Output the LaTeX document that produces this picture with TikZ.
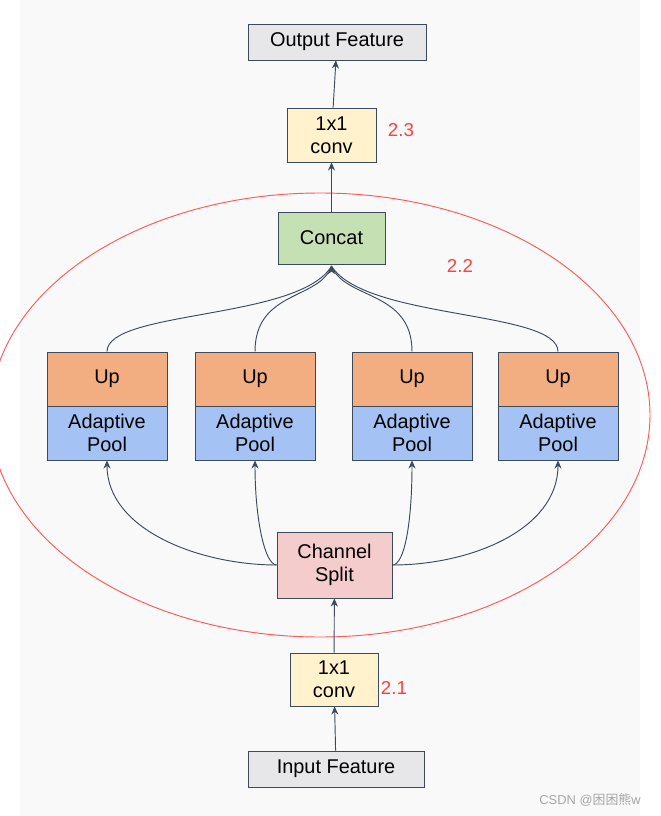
\documentclass[tikz,border=0pt]{standalone}
\usepackage{fontspec}
\setmainfont{Liberation Sans}
\newfontfamily\cjk{Noto Sans CJK SC}
\usetikzlibrary{arrows.meta}
\definecolor{ln}{HTML}{3D4A5C}
\definecolor{cup}{HTML}{F2AE80}
\definecolor{cpool}{HTML}{A4C2F4}
\definecolor{ccat}{HTML}{C5E0B3}
\definecolor{cconv}{HTML}{FFF2CC}
\definecolor{csplit}{HTML}{F4CCCC}
\definecolor{cio}{HTML}{E7E7E9}
\begin{document}
\begin{tikzpicture}[x=0.03cm,y=-0.03cm,
 bx/.style={draw=ln,line width=0.6pt,font=\fontsize{17}{20}\selectfont,align=center,inner sep=0pt},
 ar/.style={draw=ln,line width=0.8pt,-{Stealth[length=7pt,width=6pt]}},
 cv/.style={draw=ln,line width=0.8pt},
 hw/.style={text=red!75,font=\fontsize{16}{18}\selectfont}]
\fill[white] (0,0) rectangle (660,816);
\fill[gray!5] (20,0) rectangle (640,816);
\useasboundingbox (0,0) rectangle (660,816);
\draw[red!65,line width=0.8pt] (320,415) ellipse [x radius=330,y radius=222];
\node[bx,fill=cio,minimum width=178*0.03cm,minimum height=36*0.03cm] (out) at (337,42) {Output Feature};
\node[bx,fill=cconv,minimum width=89*0.03cm,minimum height=54*0.03cm] (c2) at (331.5,135) {1x1\\conv};
\node[bx,fill=ccat,minimum width=107*0.03cm,minimum height=52*0.03cm] (cat) at (331.5,238) {Concat};
\foreach \i/\x in {1/107,2/255,3/412,4/558}{
 \node[bx,fill=cup,minimum width=120*0.03cm,minimum height=54*0.03cm] (u\i) at (\x,379) {Up};
 \node[bx,fill=cpool,minimum width=120*0.03cm,minimum height=54*0.03cm] (p\i) at (\x,433) {Adaptive\\Pool};
}
\node[bx,fill=csplit,minimum width=115*0.03cm,minimum height=66*0.03cm] (cs) at (334.5,565) {Channel\\Split};
\node[bx,fill=cconv,minimum width=88*0.03cm,minimum height=53*0.03cm] (c1) at (334,679.5) {1x1\\conv};
\node[bx,fill=cio,minimum width=176*0.03cm,minimum height=36*0.03cm] (in) at (336,769) {Input Feature};
\draw[ar] (in) -- (c1);
\draw[ar] (c1) -- (cs);
\draw[ar] (cat) -- (c2);
\draw[ar] (c2) -- (out);
\coordinate (cb) at (331.5,266);
\draw[cv] (u1.north) .. controls (107,310) and (300,320) .. (cb);
\draw[cv] (u2.north) .. controls (255,290) and (320,300) .. (cb);
\draw[cv] (u3.north) .. controls (412,290) and (345,300) .. (cb);
\draw[cv] (u4.north) .. controls (558,310) and (365,320) .. (cb);
\draw[ar] (cb) ++(0,0.1) -- (cb);
\draw[ar] (cs.west) .. controls (200,565) and (107,530) .. (p1.south);
\draw[ar] (cs.west) .. controls (265,565) and (255,520) .. (p2.south);
\draw[ar] (cs.east) .. controls (405,565) and (412,520) .. (p3.south);
\draw[ar] (cs.east) .. controls (470,565) and (558,530) .. (p4.south);
\node[hw] (l3) at (401,130) {2.3};
\node[hw] (l2) at (460,266) {2.2};
\node[hw] (l1) at (394,688) {2.1};
\node[text=gray!70,font=\fontsize{11}{13}\selectfont] (wm) at (590,800) {CSDN @{\cjk 困困熊}w};
\end{tikzpicture}
\end{document}
